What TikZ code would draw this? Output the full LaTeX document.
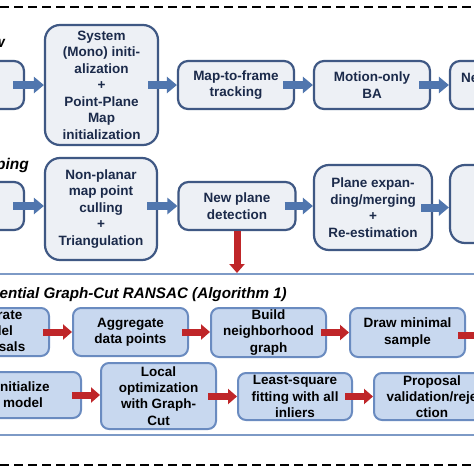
\documentclass[tikz,border=0pt]{standalone}
\usepackage{fontspec}
\setmainfont{Liberation Sans}
\usetikzlibrary{arrows.meta}
\definecolor{boxfill}{HTML}{EDF0F5}
\definecolor{boxline}{HTML}{3F5884}
\definecolor{navytext}{HTML}{1B2A4A}
\definecolor{barrow}{HTML}{5076AE}
\definecolor{rarrow}{HTML}{BF2629}
\definecolor{rfill}{HTML}{C8D8EF}
\definecolor{rline}{HTML}{6A8BC0}
\definecolor{frameline}{HTML}{7D9AC6}
\begin{document}
\begin{tikzpicture}[x=1pt,y=-1pt,
  flowbox/.style={draw=boxline, line width=2.2pt, fill=boxfill, rounded corners=10pt, align=center,
    font=\bfseries\fontsize{13.5}{16.5}\selectfont, text=navytext, inner sep=0pt},
  bigbox/.style={flowbox, rounded corners=15pt},
  ransacbox/.style={draw=rline, line width=2pt, fill=rfill, rounded corners=8pt, align=center,
    font=\bfseries\fontsize{13.5}{16.3}\selectfont, text=black, inner sep=0pt},
  bluearrow/.style={draw=barrow, line width=8pt, -{Triangle[width=16pt,length=10pt]}},
  redarrow/.style={draw=rarrow, line width=7pt, -{Triangle[width=15pt,length=9pt]}},
  sepline/.style={line width=2.7pt, dash pattern=on 9pt off 5pt},
  threadlabel/.style={font=\bfseries\itshape\fontsize{15.5}{18}\selectfont, text=black, inner sep=0pt}
]
\useasboundingbox (0,0) rectangle (474,474);
\clip (0,0) rectangle (474,474);
\fill[white] (0,0) rectangle (474,474);

% separators
\coordinate (sepTL) at (0,7);
\coordinate (sepTR) at (474,7);
\coordinate (sepBL) at (0,465);
\coordinate (sepBR) at (474,465);
\draw[sepline] (sepTL) -- (sepTR);
\draw[sepline] (sepBL) -- (sepBR);

% thread labels
\node[threadlabel, anchor=east] (lab1) at (5,43) {w};
\node[threadlabel, anchor=east] (lab2) at (29,165) {Mapping};

% row 1
\node[flowbox, minimum width=84pt, minimum height=48pt] (a1) at (-18,85) {};
\node[bigbox, minimum width=113pt, minimum height=120pt] (b1) at (101.5,85)
  {System\\(Mono) initi-\\alization\\+\\Point-Plane\\Map\\initialization};
\node[flowbox, minimum width=116pt, minimum height=48pt] (c1) at (236,85) {Map-to-frame\\tracking};
\node[flowbox, minimum width=116pt, minimum height=48pt] (d1) at (372,85) {Motion-only\\BA};
\node[flowbox, minimum width=116pt, minimum height=48pt] (e1) at (508,85) {};
\node[font=\bfseries\fontsize{13.5}{16.5}\selectfont, text=navytext, inner sep=0pt, anchor=west] (e1txt) at (461,78) {Ne};

\draw[bluearrow] ([xshift=-12pt]a1.east) -- (b1.west);
\draw[bluearrow] ([xshift=-11pt]b1.east) -- (c1.west);
\draw[bluearrow] ([xshift=-12pt]c1.east) -- (d1.west);
\draw[bluearrow] ([xshift=-12pt]d1.east) -- (e1.west);

% row 2
\node[flowbox, minimum width=84pt, minimum height=48pt] (a2) at (-18,206) {};
\node[bigbox, minimum width=112pt, minimum height=102pt] (b2) at (101,209)
  {Non-planar\\map point\\culling\\+\\Triangulation};
\node[flowbox, minimum width=117pt, minimum height=48pt] (c2) at (237,206) {New plane\\detection};
\node[bigbox, minimum width=118pt, minimum height=85pt] (d2) at (373,207.5)
  {Plane expan-\\ding/merging\\+\\Re-estimation};
\node[bigbox, minimum width=120pt, minimum height=78pt] (e2) at (510,204) {};

\draw[bluearrow] ([xshift=-12pt]a2.east) -- (a2.east -| b2.west);
\draw[bluearrow] ([xshift=-11pt]b2.east |- c2.west) -- (c2.west);
\draw[bluearrow] ([xshift=-12pt]c2.east) -- (c2.east -| d2.west);
\draw[bluearrow] ([xshift=-12pt]d2.east) -- (d2.east -| e2.west);

% RANSAC frame
\node[draw=frameline, line width=2pt, fill=white, minimum width=500pt, minimum height=161pt, inner sep=0pt] (frame) at (237,354.5) {};
\coordinate (downend) at (237,273);
\draw[redarrow] (c2.south) -- (downend);
\node[threadlabel, font=\bfseries\itshape\fontsize{15.2}{18}\selectfont, anchor=east] (title) at (287,295) {Sequential Graph-Cut RANSAC (Algorithm 1)};

% RANSAC row 1
\node[ransacbox, minimum width=112pt, minimum height=48pt] (r1) at (-7,332) {Generate\\model\\proposals};
\node[ransacbox, minimum width=115pt, minimum height=48pt] (r2) at (130.5,332) {Aggregate\\data points};
\node[ransacbox, minimum width=115pt, minimum height=49pt] (r3) at (268.5,332.5) {Build\\neighborhood\\graph};
\node[ransacbox, minimum width=115pt, minimum height=49pt] (r4) at (407.5,332.5) {Draw minimal\\sample};
\coordinate (r4out) at (485,335);

\draw[redarrow] ([xshift=-7pt]r1.east) -- (r2.west);
\draw[redarrow] ([xshift=-7pt]r2.east) -- (r2.east -| r3.west);
\draw[redarrow] ([xshift=-6pt]r3.east) -- (r3.east -| r4.west);
\draw[redarrow] ([xshift=-8pt]r4.east |- r4out) -- (r4out);

% RANSAC row 2
\node[ransacbox, minimum width=116pt, minimum height=46pt] (r5) at (23,395) {Initialize\\model};
\node[ransacbox, minimum width=115pt, minimum height=66pt] (r6) at (158.5,396) {Local\\optimization\\with Graph-\\Cut};
\node[ransacbox, minimum width=114pt, minimum height=47pt] (r7) at (295,396.5) {Least-square\\fitting with all\\inliers};
\node[ransacbox, minimum width=116pt, minimum height=47pt] (r8) at (432,396.5) {Proposal\\validation/reje\\ction};

\draw[redarrow] ([xshift=-10pt]r5.east) -- (r5.east -| r6.west);
\draw[redarrow] ([xshift=-9pt]r6.east |- r7.west) -- (r7.west);
\draw[redarrow] ([xshift=-8pt]r7.east) -- (r8.west);
\end{tikzpicture}
\end{document}
